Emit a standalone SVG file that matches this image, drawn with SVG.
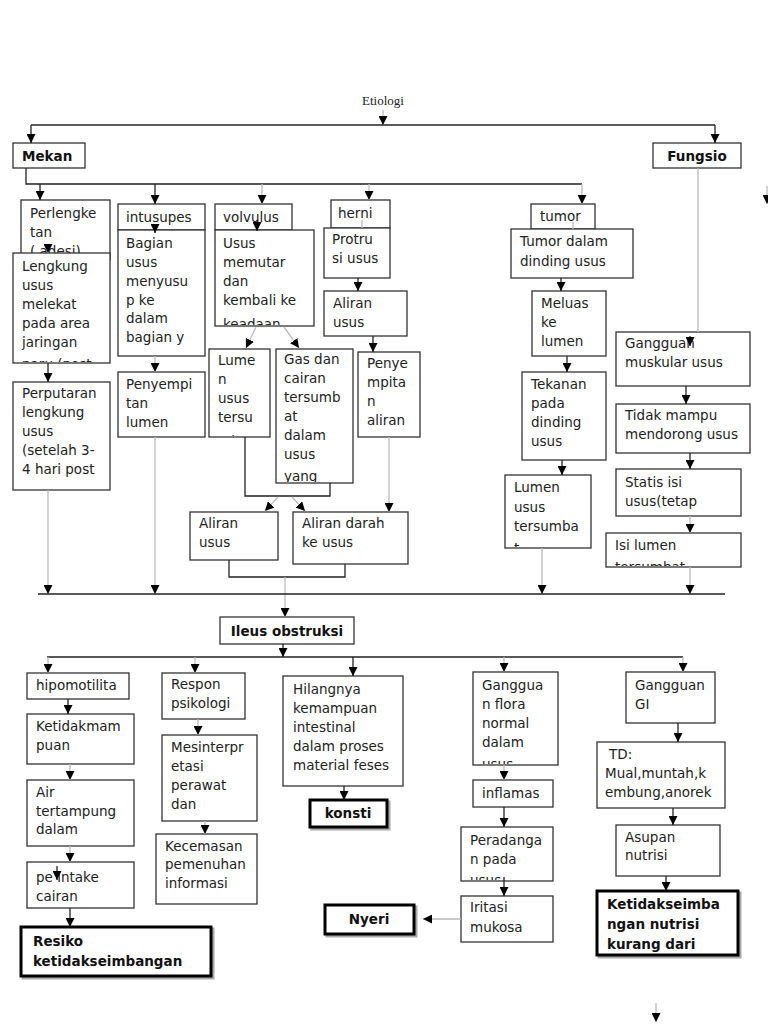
<svg xmlns="http://www.w3.org/2000/svg" width="768" height="1024" viewBox="0 0 768 1024">
<defs>
<style>
.bx{fill:#fff;stroke:#333;stroke-width:1.3}
.tk{fill:#fff;stroke:#000;stroke-width:3}
.sh{fill:none;stroke:#aaa;stroke-width:3}
.t{font-family:"DejaVu Sans",sans-serif;font-size:13.5px;fill:#222}
.b{font-family:"DejaVu Sans",sans-serif;font-size:13.5px;font-weight:bold;fill:#111}
.ttl{font-family:"Liberation Serif",serif;font-size:13px;fill:#222}
.ln{stroke:#222;stroke-width:1.3;fill:none}
.gl{stroke:#bbb;stroke-width:1.3;fill:none}
.ar{marker-end:url(#ah)}
</style>
<marker id="ah" markerUnits="userSpaceOnUse" markerWidth="9" markerHeight="9" refX="9" refY="4.5" orient="auto"><path d="M0,0L9,4.5L0,9z" fill="#000"/></marker>
<clipPath id="c5"><rect x="13" y="253" width="97" height="109"/></clipPath>
<clipPath id="c11"><rect x="215" y="230" width="99" height="95"/></clipPath>
<clipPath id="c12"><rect x="209" y="349" width="61" height="87"/></clipPath>
<clipPath id="c13"><rect x="276" y="349" width="77" height="133"/></clipPath>
<clipPath id="c24"><rect x="505" y="475" width="86" height="72"/></clipPath>
<clipPath id="c28"><rect x="606" y="533" width="135" height="33"/></clipPath>
<clipPath id="c40"><rect x="473" y="672" width="85" height="92"/></clipPath>
<clipPath id="c42"><rect x="461" y="827" width="92" height="53"/></clipPath>
<clipPath id="c48"><rect x="597" y="891" width="141" height="62"/></clipPath>
</defs>
<rect width="768" height="1024" fill="#fff"/>

<g id="etiologi"><text class="ttl" x="383" y="105" text-anchor="middle">Etiologi</text></g>
<g id="mekan"><rect class="bx" x="13" y="143" width="72" height="25"/><text class="b" x="22" y="161">Mekan</text></g>
<g id="fungsio"><rect class="bx" x="653" y="143" width="88" height="25"/><text class="b" x="697" y="161" text-anchor="middle">Fungsio</text></g>

<g id="perlengketan"><rect class="bx" x="21" y="200" width="89" height="60"/><text class="t" x="30" y="218">Perlengke</text><text class="t" x="30" y="237">tan</text><text class="t" x="30" y="256">( adesi)</text></g>
<g id="lengkung"><rect class="bx" x="13" y="253" width="97" height="110"/><g clip-path="url(#c5)"><text class="t" x="22" y="271">Lengkung</text><text class="t" x="22" y="290">usus</text><text class="t" x="22" y="309">melekat</text><text class="t" x="22" y="328">pada area</text><text class="t" x="22" y="347">jaringan</text><text class="t" x="22" y="369">paru (post</text></g></g>
<g id="perputaran"><rect class="bx" x="13" y="382" width="97" height="108"/><text class="t" x="22" y="398">Perputaran</text><text class="t" x="22" y="417">lengkung</text><text class="t" x="22" y="436">usus</text><text class="t" x="22" y="455">(setelah 3-</text><text class="t" x="22" y="474">4 hari post</text></g>

<g id="intusupes"><rect class="bx" x="118" y="204" width="87" height="26"/><text class="t" x="126" y="222">intusupes</text></g>
<g id="bagian"><rect class="bx" x="118" y="230" width="87" height="126"/><text class="t" x="126" y="248">Bagian</text><text class="t" x="126" y="267">usus</text><text class="t" x="126" y="286">menyusu</text><text class="t" x="126" y="305">p ke</text><text class="t" x="126" y="323">dalam</text><text class="t" x="126" y="342">bagian y</text></g>
<g id="penyempitan-lumen"><rect class="bx" x="118" y="372" width="87" height="65"/><text class="t" x="126" y="389">Penyempi</text><text class="t" x="126" y="408">tan</text><text class="t" x="126" y="427">lumen</text></g>

<g id="volvulus"><rect class="bx" x="215" y="204" width="77" height="26"/><text class="t" x="223" y="222">volvulus</text></g>
<g id="memutar"><rect class="bx" x="215" y="230" width="99" height="96"/><g clip-path="url(#c11)"><text class="t" x="223" y="248">Usus</text><text class="t" x="223" y="267">memutar</text><text class="t" x="223" y="286">dan</text><text class="t" x="223" y="305">kembali ke</text><text class="t" x="223" y="329">keadaan</text></g></g>
<g id="lumen-tersumbat1"><rect class="bx" x="209" y="349" width="61" height="88"/><g clip-path="url(#c12)"><text class="t" x="218" y="365">Lume</text><text class="t" x="218" y="384">n</text><text class="t" x="218" y="403">usus</text><text class="t" x="218" y="422">tersu</text><text class="t" x="218" y="446">mbat</text></g></g>
<g id="gas"><rect class="bx" x="276" y="349" width="77" height="134"/><g clip-path="url(#c13)"><text class="t" x="284" y="364">Gas dan</text><text class="t" x="284" y="383">cairan</text><text class="t" x="284" y="402">tersumb</text><text class="t" x="284" y="421">at</text><text class="t" x="284" y="440">dalam</text><text class="t" x="284" y="459">usus</text><text class="t" x="284" y="481">yang</text></g></g>
<g id="aliran-usus1"><rect class="bx" x="190" y="512" width="88" height="48"/><text class="t" x="199" y="528">Aliran</text><text class="t" x="199" y="547">usus</text></g>
<g id="aliran-darah"><rect class="bx" x="293" y="512" width="115" height="52"/><text class="t" x="302" y="528">Aliran darah</text><text class="t" x="302" y="547">ke usus</text></g>

<g id="herni"><rect class="bx" x="331" y="200" width="59" height="28"/><text class="t" x="338" y="218">herni</text></g>
<g id="protrusi"><rect class="bx" x="324" y="228" width="66" height="50"/><text class="t" x="332" y="244">Protru</text><text class="t" x="332" y="263">si usus</text></g>
<g id="aliran-usus2"><rect class="bx" x="324" y="291" width="83" height="45"/><text class="t" x="333" y="308">Aliran</text><text class="t" x="333" y="327">usus</text></g>
<g id="penyempitan-aliran"><rect class="bx" x="358" y="352" width="62" height="85"/><text class="t" x="367" y="368">Penye</text><text class="t" x="367" y="387">mpita</text><text class="t" x="367" y="406">n</text><text class="t" x="367" y="425">aliran</text></g>

<g id="tumor"><rect class="bx" x="531" y="204" width="64" height="25"/><text class="t" x="540" y="221">tumor</text></g>
<g id="tumor-dalam"><rect class="bx" x="511" y="229" width="122" height="49"/><text class="t" x="520" y="246">Tumor dalam</text><text class="t" x="520" y="266">dinding usus</text></g>
<g id="meluas"><rect class="bx" x="532" y="291" width="74" height="65"/><text class="t" x="541" y="308">Meluas</text><text class="t" x="541" y="327">ke</text><text class="t" x="541" y="346">lumen</text></g>
<g id="tekanan"><rect class="bx" x="522" y="372" width="84" height="88"/><text class="t" x="531" y="389">Tekanan</text><text class="t" x="531" y="408">pada</text><text class="t" x="531" y="427">dinding</text><text class="t" x="531" y="446">usus</text></g>
<g id="lumen-tersumbat2"><rect class="bx" x="505" y="475" width="86" height="73"/><g clip-path="url(#c24)"><text class="t" x="514" y="492">Lumen</text><text class="t" x="514" y="512">usus</text><text class="t" x="514" y="531">tersumba</text><text class="t" x="514" y="553">t</text></g></g>

<g id="muskular"><rect class="bx" x="616" y="332" width="134" height="54"/><text class="t" x="625" y="348">Gangguan</text><text class="t" x="625" y="367">muskular usus</text></g>
<g id="tidak-mampu"><rect class="bx" x="616" y="404" width="134" height="49"/><text class="t" x="625" y="420">Tidak mampu</text><text class="t" x="625" y="439">mendorong usus</text></g>
<g id="statis"><rect class="bx" x="616" y="469" width="125" height="47"/><text class="t" x="625" y="487">Statis isi</text><text class="t" x="625" y="506">usus(tetap</text></g>
<g id="isi-lumen"><rect class="bx" x="606" y="533" width="135" height="34"/><g clip-path="url(#c28)"><text class="t" x="615" y="550">Isi lumen</text><text class="t" x="615" y="572">tersumbat</text></g></g>

<g id="ileus"><rect class="bx" x="220" y="617" width="134" height="27"/><text class="b" x="287" y="636" text-anchor="middle">Ileus obstruksi</text></g>

<g id="hipomotilitas"><rect class="bx" x="27" y="673" width="102" height="26"/><text class="t" x="36" y="690">hipomotilita</text></g>
<g id="ketidakmampuan"><rect class="bx" x="27" y="714" width="107" height="50"/><text class="t" x="36" y="731">Ketidakmam</text><text class="t" x="36" y="750">puan</text></g>
<g id="air"><rect class="bx" x="27" y="780" width="107" height="66"/><text class="t" x="36" y="797">Air</text><text class="t" x="36" y="816">tertampung</text><text class="t" x="36" y="834">dalam</text></g>
<g id="intake"><rect class="bx" x="27" y="862" width="107" height="46"/><text class="t" x="36" y="882">pe  intake</text><text class="t" x="36" y="901">cairan</text></g>
<g id="resiko"><rect class="sh" x="23" y="929" width="190" height="49"/><rect class="tk" x="21" y="927" width="190" height="49"/><text class="b" x="33" y="946">Resiko</text><text class="b" x="33" y="966">ketidakseimbangan</text></g>

<g id="respon"><rect class="bx" x="162" y="673" width="83" height="46"/><text class="t" x="171" y="689">Respon</text><text class="t" x="171" y="708">psikologi</text></g>
<g id="mesinterpretasi"><rect class="bx" x="162" y="735" width="95" height="86"/><text class="t" x="171" y="752">Mesinterpr</text><text class="t" x="171" y="771">etasi</text><text class="t" x="171" y="790">perawat</text><text class="t" x="171" y="809">dan</text></g>
<g id="kecemasan"><rect class="bx" x="156" y="834" width="101" height="70"/><text class="t" x="165" y="851">Kecemasan</text><text class="t" x="165" y="869">pemenuhan</text><text class="t" x="165" y="888">informasi</text></g>

<g id="hilangnya"><rect class="bx" x="283" y="676" width="120" height="110"/><text class="t" x="293" y="694">Hilangnya</text><text class="t" x="293" y="713">kemampuan</text><text class="t" x="293" y="732">intestinal</text><text class="t" x="293" y="751">dalam proses</text><text class="t" x="293" y="770">material feses</text></g>
<g id="konsti"><rect class="sh" x="312" y="802" width="77" height="27"/><rect class="tk" x="310" y="800" width="77" height="27"/><text class="b" x="348" y="818" text-anchor="middle">konsti</text></g>

<g id="flora"><rect class="bx" x="473" y="672" width="85" height="93"/><g clip-path="url(#c40)"><text class="t" x="482" y="690">Ganggua</text><text class="t" x="482" y="709">n flora</text><text class="t" x="482" y="728">normal</text><text class="t" x="482" y="747">dalam</text><text class="t" x="482" y="769">usus</text></g></g>
<g id="inflamas"><rect class="bx" x="473" y="780" width="80" height="27"/><text class="t" x="482" y="798">inflamas</text></g>
<g id="peradangan"><rect class="bx" x="461" y="827" width="92" height="54"/><g clip-path="url(#c42)"><text class="t" x="470" y="845">Peradanga</text><text class="t" x="470" y="864">n pada</text><text class="t" x="470" y="885">usus</text></g></g>
<g id="iritasi"><rect class="bx" x="461" y="896" width="92" height="46"/><text class="t" x="470" y="912">Iritasi</text><text class="t" x="470" y="932">mukosa</text></g>
<g id="nyeri"><rect class="sh" x="327" y="907" width="89" height="29"/><rect class="tk" x="325" y="905" width="89" height="29"/><text class="b" x="369" y="924" text-anchor="middle">Nyeri</text></g>

<g id="gangguan-gi"><rect class="bx" x="626" y="672" width="89" height="51"/><text class="t" x="635" y="690">Gangguan</text><text class="t" x="635" y="709">GI</text></g>
<g id="td"><rect class="bx" x="597" y="742" width="128" height="66"/><text class="t" x="609" y="759">TD:</text><text class="t" x="605" y="778">Mual,muntah,k</text><text class="t" x="605" y="797">embung,anorek</text></g>
<g id="asupan"><rect class="bx" x="616" y="825" width="104" height="51"/><text class="t" x="625" y="842">Asupan</text><text class="t" x="625" y="860">nutrisi</text></g>
<g id="ketidakseimbangan-nutrisi"><rect class="sh" x="599" y="893" width="141" height="64"/><rect class="tk" x="597" y="891" width="141" height="64"/><g clip-path="url(#c48)"><text class="b" x="607" y="909">Ketidakseimba</text><text class="b" x="607" y="929">ngan nutrisi</text><text class="b" x="607" y="949">kurang dari</text></g></g>

<g id="connectors">
<path class="gl ar" d="M383 110V125"/>
<path class="ln" d="M31 125H715"/>
<path class="ln ar" d="M31 125V143"/>
<path class="ln ar" d="M715 125V143"/>
<path class="ln" d="M26 168V184H582"/>
<path class="ln ar" d="M40 184V200"/>
<path class="ln ar" d="M155 184V204"/>
<path class="gl ar" d="M262 184V204"/>
<path class="gl ar" d="M369 184V200"/>
<path class="gl ar" d="M582 184V204"/>
<path class="gl ar" d="M48 244V253"/>
<path class="ln ar" d="M48 363V382"/>
<path class="gl ar" d="M48 490V594"/>
<path class="ln ar" d="M155 225V233"/>
<path class="gl ar" d="M155 356V372"/>
<path class="gl ar" d="M155 437V594"/>
<path class="ln ar" d="M257 220V231"/>
<path class="gl ar" d="M256 327L246 348"/>
<path class="gl ar" d="M284 327L299 348"/>
<path class="ln" d="M245 437V496H330V483"/>
<path class="gl ar" d="M278 497L265 511"/>
<path class="gl ar" d="M292 497L305 511"/>
<path class="ln" d="M229 560V577H345V564"/>
<path class="gl ar" d="M285 577V617"/>
<path class="gl" d="M362 220V228"/>
<path class="ln ar" d="M358 278V291"/>
<path class="ln ar" d="M373 336V352"/>
<path class="gl ar" d="M389 437V512"/>
<path class="gl" d="M573 222V229"/>
<path class="ln ar" d="M561 278V291"/>
<path class="ln ar" d="M567 356V372"/>
<path class="ln ar" d="M562 460V475"/>
<path class="gl ar" d="M542 548V594"/>
<path class="gl" d="M698 168V332"/>
<path class="ln ar" d="M690 336V346"/>
<path class="ln ar" d="M686 386V404"/>
<path class="ln ar" d="M690 453V469"/>
<path class="gl ar" d="M690 516V533"/>
<path class="gl ar" d="M690 567V594"/>
<path class="ln" d="M38 594H725"/>
<path class="ln ar" d="M283 644V657"/>
<path class="ln" d="M47 657H683"/>
<path class="gl ar" d="M48 657V673"/>
<path class="gl ar" d="M195 657V673"/>
<path class="ln ar" d="M353 657V676"/>
<path class="gl ar" d="M504 657V672"/>
<path class="gl ar" d="M683 657V672"/>
<path class="ln ar" d="M68 699V714"/>
<path class="gl ar" d="M70 764V780"/>
<path class="gl ar" d="M70 846V862"/>
<path class="ln ar" d="M57 866V880"/>
<path class="ln ar" d="M70 908V927"/>
<path class="gl ar" d="M198 719V735"/>
<path class="gl ar" d="M205 821V834"/>
<path class="ln ar" d="M344 786V800"/>
<path class="gl ar" d="M504 765V780"/>
<path class="ln ar" d="M504 807V827"/>
<path class="ln ar" d="M504 877V896"/>
<path class="gl ar" d="M461 919H423"/>
<path class="ln ar" d="M678 723V742"/>
<path class="ln ar" d="M673 808V825"/>
<path class="ln ar" d="M666 876V891"/>
<path class="gl ar" d="M656 1003V1022"/>
<path class="gl ar" d="M767 186V204"/>
</g>
</svg>
